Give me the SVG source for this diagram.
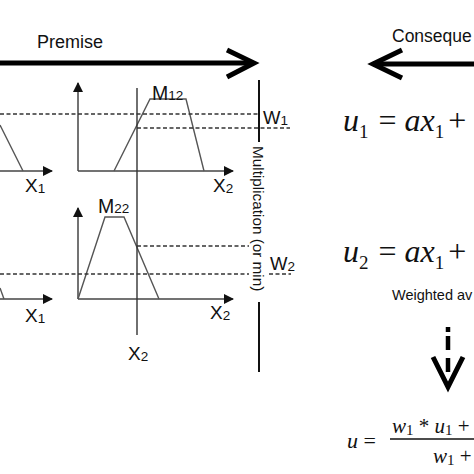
<svg xmlns="http://www.w3.org/2000/svg" width="474" height="474" viewBox="0 0 474 474">
<defs>
<marker id="ah" viewBox="0 0 10 10" refX="9" refY="5" markerWidth="10" markerHeight="10" markerUnits="userSpaceOnUse" orient="auto">
<path d="M0,0 L10,5 L0,10 z" fill="#111"/>
</marker>
<style>
.ax{stroke:#444;stroke-width:1.5;fill:none}
.mf{stroke:#555;stroke-width:1.4;fill:none}
.dash{stroke:#333;stroke-width:1.3;stroke-dasharray:4 2.5;fill:none}
.thick{stroke:#000;stroke-width:5;fill:none;stroke-linecap:butt}
.lbl{font-family:"Liberation Sans",Arial,sans-serif;fill:#111}
.math{font-family:"Liberation Serif","Times New Roman",serif;fill:#111}
</style>
</defs>
<rect width="474" height="474" fill="#fff"/>

<g id="premise">
<line class="thick" x1="0" y1="63" x2="252" y2="63"/>
<polyline class="thick" points="227,50 254,63 227,77"/>
<text class="lbl" x="37" y="48" font-size="18">Premise</text>
</g>

<g id="consequence">
<line class="thick" x1="373" y1="64" x2="474" y2="64"/>
<polyline class="thick" points="402,50 373,64 402,78"/>
<text class="lbl" x="392" y="42" font-size="17.5">Conseque</text>
</g>

<g id="plot-m11">
<line class="ax" x1="0" y1="171" x2="52" y2="171" marker-end="url(#ah)"/>
<polyline class="mf" points="0,125 23,171"/>
<text class="lbl" x="25" y="192" font-size="19">X<tspan font-size="13.5" dy="1">1</tspan></text>
</g>

<g id="plot-m12">
<line class="ax" x1="78" y1="171" x2="78" y2="83" marker-end="url(#ah)"/>
<line class="ax" x1="78" y1="171" x2="233" y2="171" marker-end="url(#ah)"/>
<polyline class="mf" points="114,171 150,99 186,99 204,171"/>
<text class="lbl" x="152" y="100" font-size="19.5">M<tspan font-size="13.5">12</tspan></text>
<text class="lbl" x="213" y="192" font-size="19">X<tspan font-size="13.5" dy="1">2</tspan></text>
</g>

<g id="plot-m21">
<line class="ax" x1="0" y1="299" x2="52" y2="299" marker-end="url(#ah)"/>
<polyline class="mf" points="0,288 4,299"/>
<text class="lbl" x="25" y="322" font-size="19">X<tspan font-size="13.5" dy="1">1</tspan></text>
</g>

<g id="plot-m22">
<line class="ax" x1="78" y1="299" x2="78" y2="208" marker-end="url(#ah)"/>
<line class="ax" x1="78" y1="299" x2="233" y2="299" marker-end="url(#ah)"/>
<polyline class="mf" points="78,299 105,217 124,217 159,299"/>
<text class="lbl" x="98" y="213" font-size="19.5">M<tspan font-size="13.5">22</tspan></text>
<text class="lbl" x="210" y="319" font-size="19">X<tspan font-size="13.5" dy="1">2</tspan></text>
</g>

<g id="x2-input">
<line x1="137" y1="88" x2="137" y2="335" stroke="#333" stroke-width="1.4"/>
<text class="lbl" x="128" y="360" font-size="19">X<tspan font-size="13.5" dy="1">2</tspan></text>
</g>

<g id="connectors">
<line class="dash" x1="0" y1="114" x2="258" y2="114"/>
<line class="dash" x1="137" y1="128" x2="290" y2="128"/>
<line class="dash" x1="137" y1="246" x2="249" y2="246"/>
<line class="dash" x1="0" y1="274" x2="249" y2="274"/>
<line class="dash" x1="269" y1="274" x2="291" y2="274"/>
</g>

<g id="multiplication">
<line x1="259" y1="80" x2="259" y2="142" stroke="#111" stroke-width="2"/>
<line x1="259" y1="302" x2="259" y2="372" stroke="#111" stroke-width="2"/>
<text class="lbl" font-size="15.3" transform="translate(253,146) rotate(90)">Multiplication (or min)</text>
<text class="lbl" x="263" y="124" font-size="18.5">W<tspan font-size="13.5" dy="1">1</tspan></text>
<text class="lbl" x="270" y="270" font-size="18.5">W<tspan font-size="13.5" dy="1">2</tspan></text>
</g>

<g id="rule1">
<text class="math" x="343" y="131" font-size="32"><tspan font-style="italic">u</tspan><tspan font-size="19" dy="7">1</tspan><tspan dy="-7" dx="2"> = </tspan><tspan font-style="italic">ax</tspan><tspan font-size="19" dy="7">1</tspan><tspan dy="-7" dx="4">+</tspan></text>
</g>

<g id="rule2">
<text class="math" x="343" y="262" font-size="32"><tspan font-style="italic">u</tspan><tspan font-size="19" dy="7">2</tspan><tspan dy="-7" dx="2"> = </tspan><tspan font-style="italic">ax</tspan><tspan font-size="19" dy="7">1</tspan><tspan dy="-7" dx="4">+</tspan></text>
</g>

<g id="weighted">
<text class="lbl" x="392" y="300" font-size="14.5">Weighted av</text>
<line x1="448" y1="327" x2="448" y2="332" stroke="#000" stroke-width="4.5"/>
<line x1="448" y1="336" x2="448" y2="350" stroke="#000" stroke-width="4.5"/>
<line x1="448" y1="358" x2="448" y2="372" stroke="#000" stroke-width="4.5"/>
<polyline class="thick" points="433,357 448,387 463,357"/>
</g>

<g id="output">
<text class="math" x="347" y="448" font-size="22" font-style="italic">u <tspan font-style="normal">=</tspan></text>
<line x1="390" y1="439" x2="474" y2="439" stroke="#111" stroke-width="1.3"/>
<text class="math" x="392" y="433" font-size="21"><tspan font-style="italic">w</tspan><tspan font-size="15" dy="2">1</tspan><tspan dy="-2"> * </tspan><tspan font-style="italic">u</tspan><tspan font-size="15" dy="2">1</tspan><tspan dy="-2"> +</tspan></text>
<text class="math" x="433" y="463" font-size="21"><tspan font-style="italic">w</tspan><tspan font-size="15" dy="2">1</tspan><tspan dy="-2"> +</tspan></text>
</g>
</svg>
